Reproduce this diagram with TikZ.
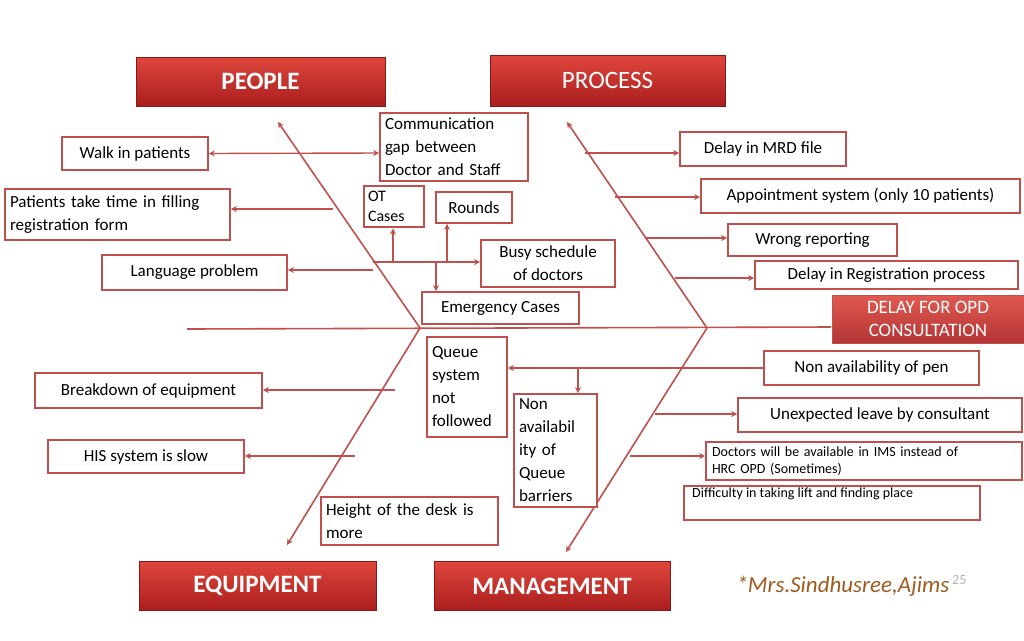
\documentclass[tikz,border=0pt]{standalone}
\usepackage{fontspec}
\setmainfont{Carlito}
\usetikzlibrary{arrows.meta}
\definecolor{bd}{RGB}{192,80,77}
\definecolor{catA}{RGB}{222,70,60}
\definecolor{catB}{RGB}{170,30,30}
\definecolor{auth}{RGB}{160,90,30}
\tikzset{
 cb/.style={draw=bd,line width=1.6pt,fill=white,inner sep=5pt,font=\fontsize{17}{23}\selectfont},
 cat/.style={draw=catB!80!black,top color=catA,bottom color=catB,text=white,minimum height=49pt,font=\fontsize{25}{28}\selectfont},
 bone/.style={draw=bd,line width=1.6pt},
 arr/.style={draw=bd,line width=1.4pt,-{Stealth[length=6pt,width=6pt]}},
}
\begin{document}
\begin{tikzpicture}[x=1pt,y=-1pt]
\useasboundingbox (0,0) rectangle (1024,640);
% spine and bones
\coordinate (sL) at (187,329);
\coordinate (sR) at (831,327);
\coordinate (jL) at (420,328);
\coordinate (jR) at (707,328);
\draw[bone] (sL) -- (sR);
\coordinate (tL) at (278,122);
\coordinate (bL) at (287,545);
\coordinate (tR) at (567,122);
\coordinate (bR) at (566,552);
\draw[arr,line width=1.6pt] (jL) -- (tL);
\draw[arr,line width=1.6pt] (jL) -- (bL);
\draw[arr,line width=1.6pt] (jR) -- (tR);
\draw[arr,line width=1.6pt] (jR) -- (bR);
% categories
\node[cat,minimum width=249pt,font=\fontsize{25}{28}\selectfont\bfseries] (people) at (260.5,81.5) {PEOPLE};
\node[cat,minimum width=235pt,minimum height=51pt] (process) at (607.5,80.5) {PROCESS};
\node[cat,minimum width=237pt,font=\fontsize{25}{28}\selectfont\bfseries] (equip) at (257.5,586) {EQUIPMENT};
\node[cat,minimum width=236pt,font=\fontsize{25}{28}\selectfont\bfseries] (mgmt) at (552,586) {MANAGEMENT};
\node[draw=bd,top color=catA!90,bottom color=catB!90,text=white,minimum width=192pt,minimum height=48pt,inner sep=0pt,align=center,font=\fontsize{19}{23}\selectfont] (head) at (928,319) {DELAY FOR OPD\\CONSULTATION};
% people side
\node[cb,minimum width=146pt,minimum height=33pt] (walk) at (135,153.5) {Walk in patients};
\node[cb,minimum width=225pt,minimum height=51pt,text width=215pt,align=left] (pat) at (117.5,214.5) {Patients take time in filling\\registration form};
\node[cb,minimum width=185pt,minimum height=35pt] (lang) at (194.5,272.5) {Language problem};
\node[cb,minimum width=148pt,minimum height=68pt,text width=138pt,align=left,inner sep=2pt] (comm) at (454,147) {Communication\\gap between\\Doctor and Staff};
\node[cb,minimum width=60pt,minimum height=41pt,text width=52pt,align=left,inner sep=2pt,font=\fontsize{16}{20}\selectfont] (ot) at (394,206.5) {OT\\Cases};
\node[cb,minimum width=76pt,minimum height=31pt] (rounds) at (474,207.5) {Rounds};
\node[cb,minimum width=134pt,minimum height=47pt,align=center] (busy) at (548,263.5) {Busy schedule\\of doctors};
\node[cb,minimum width=157pt,minimum height=32pt] (emerg) at (500.5,308) {Emergency Cases};
\draw[arr,{Stealth[length=6pt,width=6pt]}-{Stealth[length=6pt,width=6pt]}] (walk.east) -- (comm.west |- 0,153);
\coordinate (a1) at (333,209);
\draw[arr] (a1) -- (pat.east |- a1);
\coordinate (a2) at (373,270);
\draw[arr] (a2) -- (lang.east |- a2);
\coordinate (h0) at (373,262);
\draw[arr] (h0) -- (busy.west |- h0);
\draw[arr] (393,262) -- (393,228.5) coordinate (otb);
\draw[arr] (447,262) -- (rounds.south -| 447,0);
\draw[arr] (436,262) -- (emerg.north -| 436,0);
% process side
\node[cb,minimum width=166pt,minimum height=34pt] (mrd) at (763,149) {Delay in MRD file};
\node[cb,minimum width=319pt,minimum height=34pt] (appt) at (860.5,196) {Appointment system (only 10 patients)};
\node[cb,minimum width=169pt,minimum height=32pt] (wrong) at (812.5,240) {Wrong reporting};
\node[cb,minimum width=263pt,minimum height=28pt] (reg) at (886.5,275) {Delay in Registration process};
\draw[arr] (585,153) -- (mrd.west |- 0,153);
\draw[arr] (615,197) -- (appt.west |- 0,197);
\draw[arr] (645,238) -- (wrong.west |- 0,238);
\draw[arr] (675,278) -- (reg.west |- 0,278);
% management side
\node[cb,minimum width=215pt,minimum height=34pt] (pen) at (871.5,368) {Non availability of pen};
\node[cb,minimum width=80pt,minimum height=100pt,text width=70pt,align=left] (queue) at (467,387) {Queue\\system\\not\\followed};
\node[cb,minimum width=83pt,minimum height=113pt,text width=73pt,align=left] (nonav) at (555.5,450.5) {Non\\availabil\\ity of\\Queue\\barriers};
\node[cb,minimum width=284pt,minimum height=34pt] (leave) at (880,415) {Unexpected leave by consultant};
\node[cb,minimum width=316pt,minimum height=38pt,text width=304pt,align=left,inner sep=3pt,font=\fontsize{14}{17}\selectfont] (docs) at (864,461) {Doctors will be available in IMS instead of\\HRC OPD (Sometimes)};
\node[cb,minimum width=296pt,minimum height=34pt] (diff) at (832,503) {};
\node[anchor=north west,inner sep=0pt,font=\fontsize{14}{17}\selectfont] (difft) at (692,488) {Difficulty in taking lift and finding place};
\draw[arr] (pen.west) -- (queue.east |- pen.west);
\draw[arr] (578,368) -- (nonav.north -| 578,0);
\draw[arr] (655,414) -- (leave.west |- 0,414);
\draw[arr] (630,456) -- (docs.west |- 0,456);
% equipment side
\node[cb,minimum width=227pt,minimum height=35pt] (brk) at (148.5,390.5) {Breakdown of equipment};
\node[cb,minimum width=196pt,minimum height=33pt] (his) at (146,456.5) {HIS system is slow};
\node[cb,minimum width=177pt,minimum height=48pt,text width=167pt,align=left] (desk) at (409.5,521) {Height of the desk is\\more};
\draw[arr] (395,390) -- (brk.east |- 0,390);
\draw[arr] (355,456) -- (his.east |- 0,456);
% author
\node[anchor=west,text=auth,font=\fontsize{23}{28}\selectfont\itshape] (author) at (733,586) {*Mrs.Sindhusree,Ajims};
\node[anchor=west,text=gray!60,font=\fontsize{14}{15}\selectfont,inner sep=0pt] (pg) at (952,580) {25};
\end{tikzpicture}
\end{document}
